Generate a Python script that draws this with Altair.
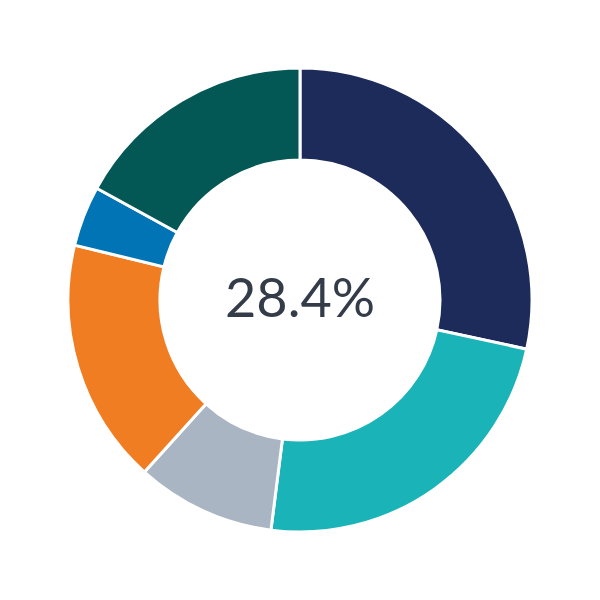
import altair as alt
import pandas as pd

categories = ["A", "B", "C", "D", "E", "F"]
values = [28.4, 23.6, 9.7, 17.1, 4.2, 17.0]
colors = ["#1c2b5a", "#1ab3b8", "#a9b5c2", "#f07d22", "#0074b4", "#035754"]
center_label = "28.4%"

df = pd.DataFrame({"cat": categories, "val": values, "order": list(range(len(categories)))})

arcs = alt.Chart(df).mark_arc(innerRadius=140, outerRadius=232, stroke="white", strokeWidth=3).encode(
    theta=alt.Theta("val:Q", stack=True),
    color=alt.Color("cat:N", scale=alt.Scale(domain=categories, range=colors), legend=None),
    order=alt.Order("order:Q"),
)

text = alt.Chart(pd.DataFrame({"t": [center_label]})).mark_text(
    fontSize=54, font="Lato", fontWeight="normal", color="#333c48", align="center", baseline="middle"
).encode(text="t:N", x=alt.value(292), y=alt.value(293))

chart = alt.layer(arcs, text).properties(
    width=584, height=584, autosize=alt.AutoSizeParams(type="none"), padding=0
).configure_view(stroke=None)

chart.save("out.html", embed_options={"renderer": "svg", "actions": False})
